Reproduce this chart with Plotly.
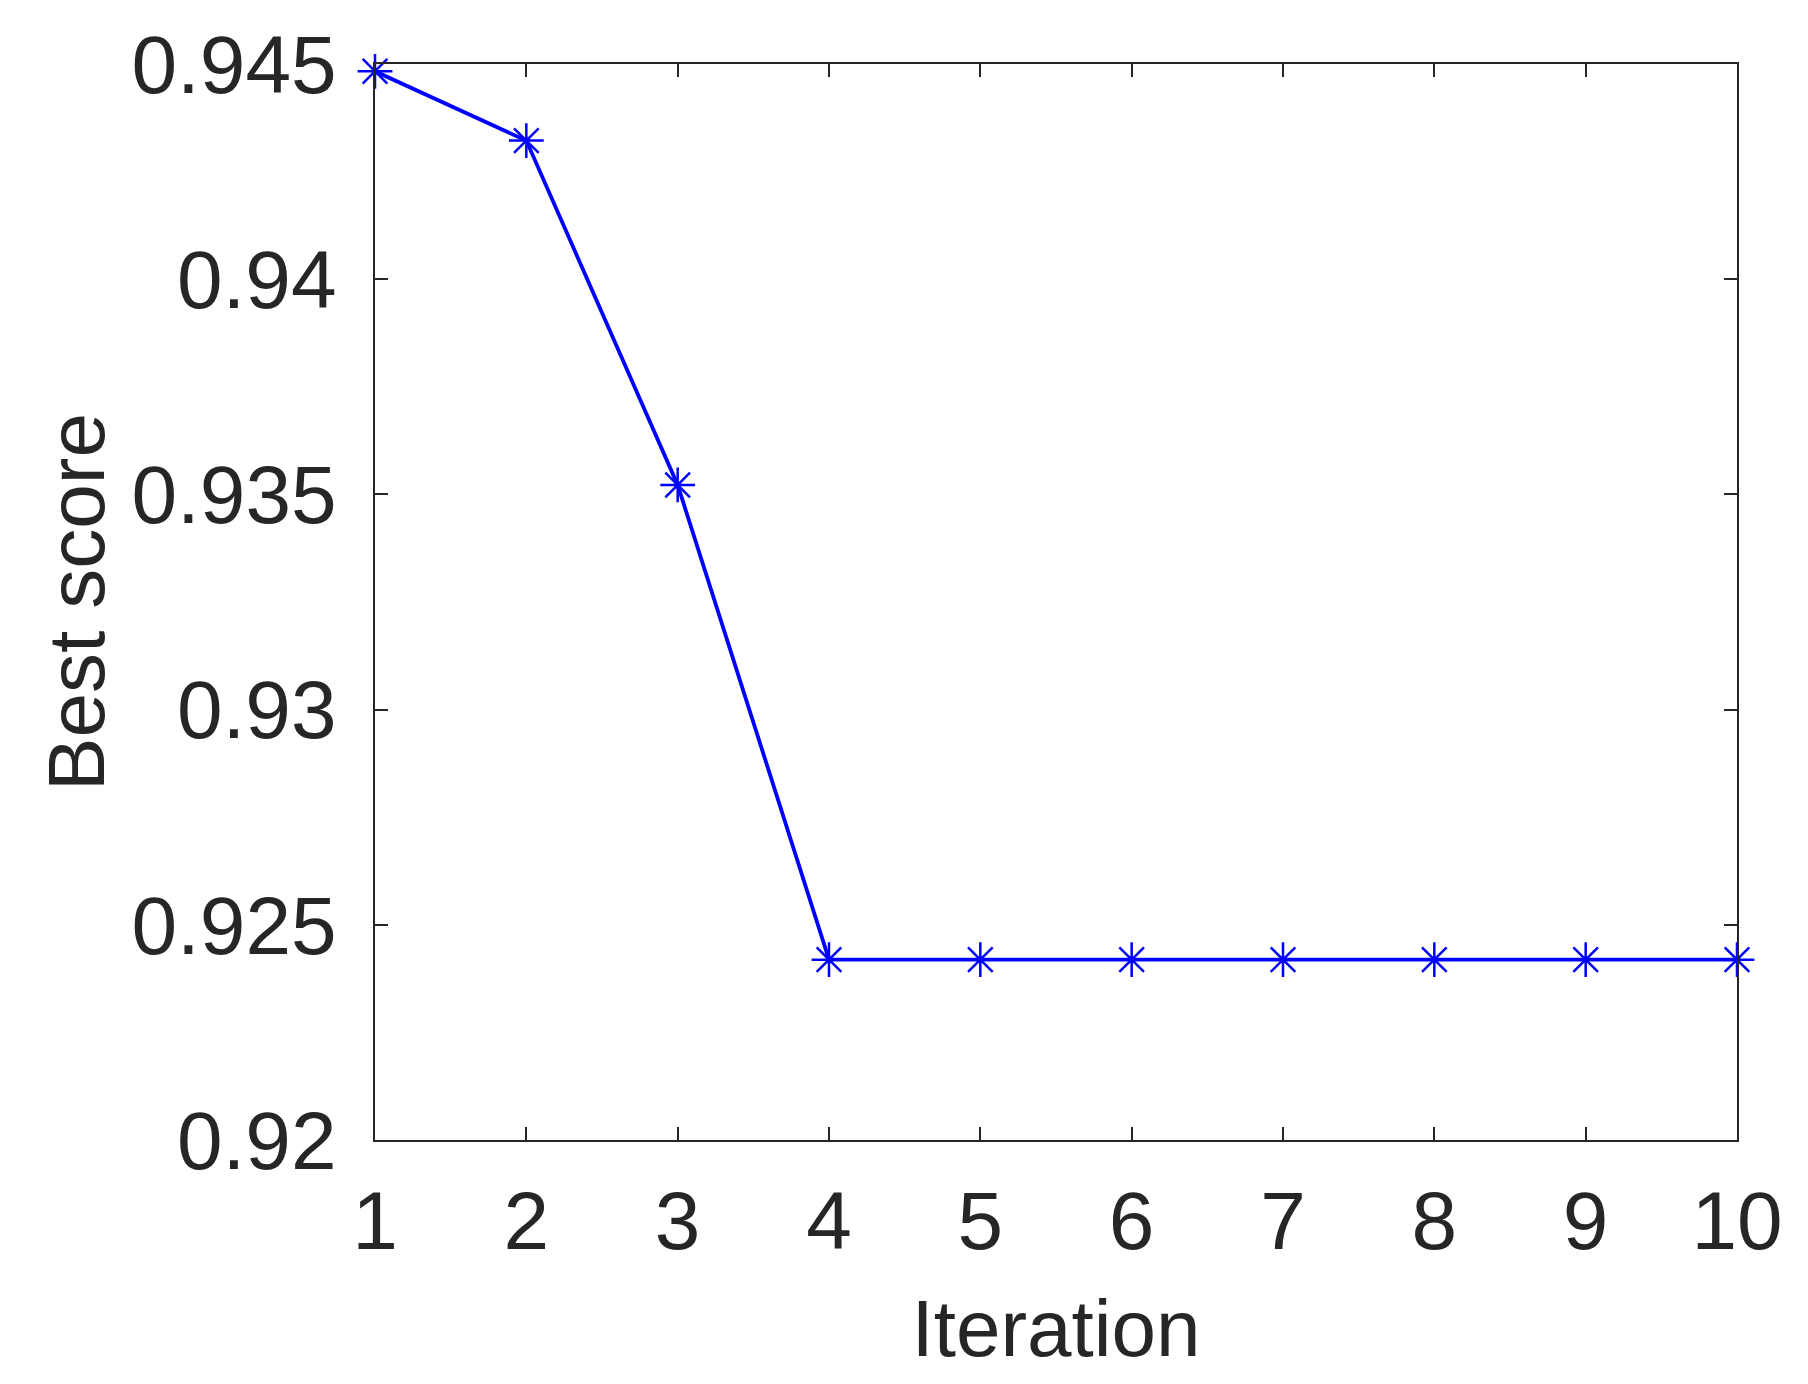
import plotly.graph_objects as go

# best score per iteration
iterations = [1, 2, 3, 4, 5, 6, 7, 8, 9, 10]
best_score = [0.94483, 0.94322, 0.93522, 0.92419, 0.92419, 0.92419,
              0.92419, 0.92419, 0.92419, 0.92419]

x_ticks = [1, 2, 3, 4, 5, 6, 7, 8, 9, 10]
y_ticks = [0.92, 0.925, 0.93, 0.935, 0.94, 0.945]
y_tick_labels = ["0.92", "0.925", "0.93", "0.935", "0.94", "0.945"]

axis_color = "#262626"
font_family = "Liberation Sans, Arial, sans-serif"

fig = go.Figure()

fig.add_trace(go.Scatter(
    x=iterations,
    y=best_score,
    mode="lines+markers",
    line=dict(color="#0000ff", width=3.8),
    marker=dict(symbol="asterisk-open", size=29,
                line=dict(color="#0000ff", width=2.5)),
    cliponaxis=False,
    showlegend=False,
))

axis_common = dict(
    showline=True,
    linecolor=axis_color,
    linewidth=2,
    mirror="ticks",
    ticks="inside",
    ticklen=13,
    tickwidth=2,
    tickcolor=axis_color,
    showgrid=False,
    zeroline=False,
    tickfont=dict(family=font_family, size=82, color=axis_color),
)

fig.update_xaxes(
    range=[1, 10],
    tickvals=x_ticks,
    ticklabelstandoff=9,
    title=dict(text="Iteration", standoff=35,
               font=dict(family=font_family, size=80, color=axis_color)),
    **axis_common,
)
fig.update_yaxes(
    range=[0.92, 0.945],
    tickvals=y_ticks,
    ticktext=y_tick_labels,
    ticklabelstandoff=20,
    title=dict(text="Best score", standoff=0,
               font=dict(family=font_family, size=80, color=axis_color)),
    **axis_common,
)

fig.update_layout(
    width=1808,
    height=1384,
    margin=dict(l=367, r=79, t=56, b=252),
    paper_bgcolor="white",
    plot_bgcolor="white",
)

fig.write_html("out.html")
